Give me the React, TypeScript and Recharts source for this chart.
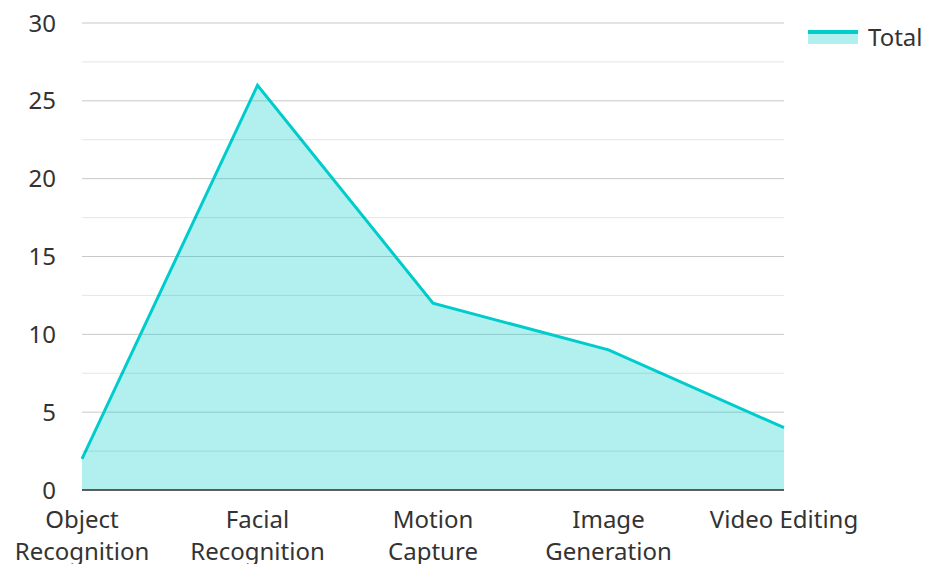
import React from "react";
import {
  AreaChart,
  Area,
  XAxis,
  YAxis,
  CartesianGrid,
  Legend,
  ReferenceLine,
} from "recharts";

const categories = [
  "Object Recognition",
  "Facial Recognition",
  "Motion Capture",
  "Image Generation",
  "Video Editing",
];
const totals = [2, 26, 12, 9, 4];
const majorTicks = [0, 5, 10, 15, 20, 25, 30];
const minorTicks = [2.5, 7.5, 12.5, 17.5, 22.5, 27.5];

const data = categories.map((name, i) => ({ name, total: totals[i] }));

const FONT = "'Noto Sans', sans-serif";
const TEAL = "#00cccc";

// wrap long labels onto two lines, like the original
const XTick = (props: any) => {
  const { x, y, payload } = props;
  const label: string = String(payload.value);
  const lines = label.length > 13 ? label.split(" ") : [label];
  return (
    <text
      x={x}
      y={y}
      textAnchor="middle"
      fontSize={24}
      fontFamily={FONT}
      fill="#333"
    >
      {lines.map((l, i) => (
        <tspan key={i} x={x} dy={i === 0 ? 30 : 32}>
          {l}
        </tspan>
      ))}
    </text>
  );
};

const LegendContent = (props: any) => {
  const { payload } = props;
  return (
    <div style={{ fontFamily: FONT }}>
      {(payload || []).map((p: any) => (
        <div
          key={p.value}
          style={{ display: "flex", alignItems: "center", gap: 10 }}
        >
          <svg width={50} height={16}>
            <rect x={0} y={2} width={50} height={13} fill={TEAL} fillOpacity={0.3} />
            <line x1={0} x2={50} y1={3} y2={3} stroke={TEAL} strokeWidth={4} />
          </svg>
          <span style={{ fontSize: 24, color: "#333" }}>{p.value}</span>
        </div>
      ))}
    </div>
  );
};

export default function App() {
  return (
    <div style={{ position: "fixed", top: 0, left: 0, background: "#fff" }}>
      <AreaChart
        width={925}
        height={564}
        data={data}
        margin={{ top: 23, right: 141, bottom: 0, left: 0 }}
      >
        <CartesianGrid vertical={false} stroke="#c8c8c8" />
        {minorTicks.map((v) => (
          <ReferenceLine key={v} y={v} stroke="#000" strokeOpacity={0.1} />
        ))}
        <XAxis
          dataKey="name"
          height={74}
          interval={0}
          tickLine={false}
          axisLine={{ stroke: "#333", strokeWidth: 1.5 }}
          tick={<XTick />}
        />
        <YAxis
          width={82}
          domain={[0, 30]}
          ticks={majorTicks}
          tickLine={false}
          axisLine={false}
          tickMargin={20}
          tick={{ fontSize: 24, fontFamily: FONT, fill: "#333" }}
        />
        <Legend
          verticalAlign="middle"
          align="center"
          layout="horizontal"
          wrapperStyle={{ top: 20, left: 808, right: "auto", width: "auto" }}
          content={<LegendContent />}
        />
        <Area
          type="linear"
          dataKey="total"
          name="Total"
          stroke={TEAL}
          strokeWidth={3}
          fill={TEAL}
          fillOpacity={0.3}
          dot={false}
          activeDot={false}
          isAnimationActive={false}
        />
      </AreaChart>
    </div>
  );
}
